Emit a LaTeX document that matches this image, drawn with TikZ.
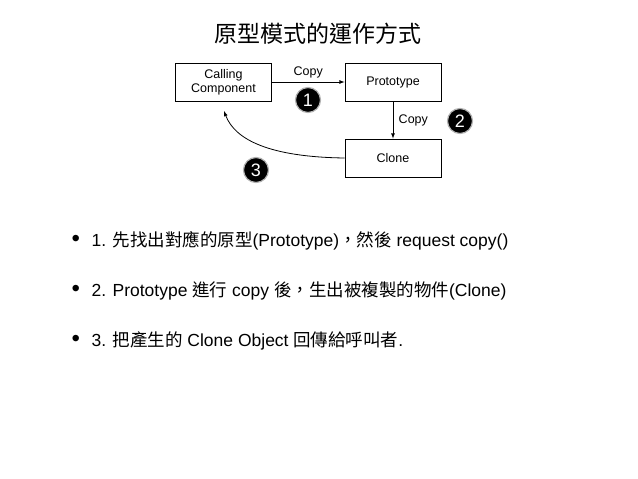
\documentclass[tikz,border=0pt]{standalone}
\usepackage{fontspec}
\setmainfont{Liberation Sans}
\newfontfamily\cjk{Noto Sans CJK TC}
\newcommand{\zh}[1]{{\cjk #1}}
\begin{document}
\begin{tikzpicture}[x=1pt,y=-1pt,
  box/.style={draw,line width=0.8pt,minimum width=96pt,minimum height=38pt,font=\fontsize{12.5}{14}\selectfont,align=center},
  num/.style={circle,fill=black,draw=gray!60,line width=1.2pt,text=white,minimum size=25pt,inner sep=0pt,font=\fontsize{18}{18}\selectfont},
  arr/.style={-latex,line width=0.8pt},
  lab/.style={font=\fontsize{12.5}{14}\selectfont},
  bul/.style={anchor=west,font=\fontsize{17.5}{20}\selectfont}]
\useasboundingbox (0,0) rectangle (638,479);
\node[font=\cjk\fontsize{23}{26}\selectfont] (title) at (318,34) {原型模式的運作方式};
\node[box] (call) at (223.5,82) {Calling\\Component};
\node[box] (proto) at (393,82) {Prototype};
\node[box] (clone) at (393,158) {Clone};
\draw[arr] (call) -- node[lab,above=0pt] (c1) {Copy} (proto);
\draw[arr] (proto) -- node[lab,right=2pt] (c2) {Copy} (clone);
\draw[arr] (clone.west) .. controls (270,157) and (235,140) .. (224,111);
\node[num] (n1) at (308,100) {1};
\node[num] (n2) at (460,121) {2};
\node[num] (n3) at (256,170) {3};
\node[bul,font=\fontsize{24}{24}\selectfont] (b1d) at (68,241) {•};
\node[bul,font=\fontsize{24}{24}\selectfont] (b2d) at (68,291) {•};
\node[bul,font=\fontsize{24}{24}\selectfont] (b3d) at (68,341) {•};
\node[bul] (b1) at (88,241) {1. \zh{先找出對應的原型}(Prototype)\zh{，然後} request copy()};
\node[bul] (b2) at (88,291) {2. Prototype \zh{進行} copy \zh{後，生出被複製的物件}(Clone)};
\node[bul] (b3) at (88,341) {3. \zh{把產生的} Clone Object \zh{回傳給呼叫者}.};
\end{tikzpicture}
\end{document}
